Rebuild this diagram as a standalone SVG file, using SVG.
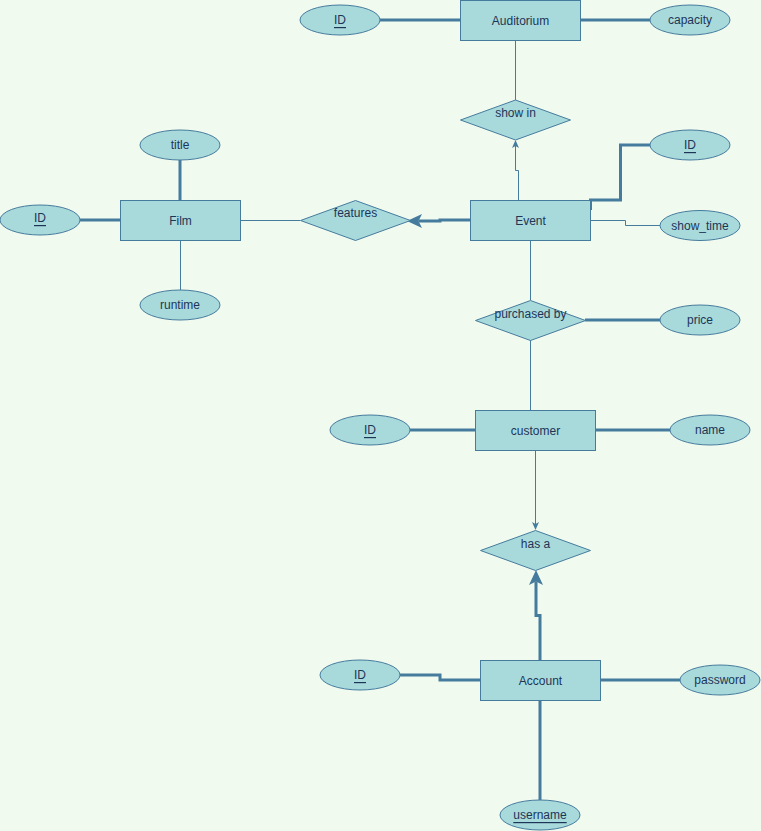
<svg xmlns="http://www.w3.org/2000/svg" width="761" height="831" viewBox="0 0 761 831">
<style>
.bg{fill:#F1FAEE}
.ent{fill:#A8DADC;stroke:#457B9D;stroke-width:1}
.att{fill:#A8DADC;stroke:#457B9D;stroke-width:1}
.rel{fill:#A8DADC;stroke:#457B9D;stroke-width:1}
.thin{fill:none;stroke:#457B9D;stroke-width:1}
.thick{fill:none;stroke:#457B9D;stroke-width:3}
text{font-family:"Liberation Sans",Arial,Helvetica,sans-serif;font-size:12px;fill:#1D3557;text-anchor:middle;dominant-baseline:central}
.key{text-decoration:underline}
</style>
<defs>
<marker id="arrThin" viewBox="0 0 8 7" markerWidth="8" markerHeight="7" refX="2" refY="3.5" orient="auto" markerUnits="userSpaceOnUse">
<path d="M0 0 L8 3.5 L0 7 L2 3.5 Z" fill="#457B9D"/>
</marker>
<marker id="arrThick" viewBox="0 0 15 14" markerWidth="15" markerHeight="14" refX="3.5" refY="7" orient="auto" markerUnits="userSpaceOnUse">
<path d="M0 0 L15 7 L0 14 L3.5 7 Z" fill="#457B9D"/>
</marker>
</defs>
<rect class="bg" x="0" y="0" width="761" height="831"/>

<g id="connectors">
<path class="thick" d="M380 20 L460 20"/>
<path class="thick" d="M580 20 L650 20"/>
<path class="thin" d="M515.5 40 L515.5 100"/>
<path class="thin" d="M518.5 200 L518.5 170.5 L515.5 170.5 L515.5 146" marker-end="url(#arrThin)"/>
<path class="thick" d="M590.5 210 L590.5 200 L620.5 200 L620.5 145 L650 145"/>
<path class="thin" d="M590 220.5 L625.5 220.5 L625.5 225.5 L660 225.5"/>
<path class="thick" d="M470 220 L440 220 L440 221 L418.5 221" marker-end="url(#arrThick)"/>
<path class="thin" d="M240 220.5 L300 220.5"/>
<path class="thick" d="M80 220 L120 220"/>
<path class="thick" d="M180 160 L180 200"/>
<path class="thin" d="M180.5 240 L180.5 290"/>
<path class="thin" d="M530.5 240 L530.5 300"/>
<path class="thick" d="M585 320 L660 320"/>
<path class="thin" d="M530.5 340 L530.5 410"/>
<path class="thick" d="M410 430 L475 430"/>
<path class="thick" d="M595 430 L670 430"/>
<path class="thin" d="M535.5 450 L535.5 524" marker-end="url(#arrThin)"/>
<path class="thick" d="M540 660 L540 615.5 L536 615.5 L536 581.5" marker-end="url(#arrThick)"/>
<path class="thick" d="M400 675 L440 675 L440 680 L480 680"/>
<path class="thick" d="M600 680 L680 680"/>
<path class="thick" d="M540 700 L540 800"/>
</g>

<g id="auditorium"><rect class="ent" x="460.5" y="0.5" width="120" height="40"/><text x="520.5" y="20.5">Auditorium</text></g>
<g id="auditorium-id"><ellipse class="att" cx="340" cy="20" rx="40" ry="15"/><text class="key" x="340" y="20">ID</text></g>
<g id="auditorium-capacity"><ellipse class="att" cx="690" cy="20" rx="40" ry="15"/><text x="690" y="20">capacity</text></g>
<g id="show-in"><path class="rel" d="M460.5 120 L515.5 100 L570.5 120 L515.5 140 Z"/><text x="515.5" y="113">show in</text></g>
<g id="event"><rect class="ent" x="470.5" y="200.5" width="120" height="40"/><text x="530.5" y="220.5">Event</text></g>
<g id="event-id"><ellipse class="att" cx="690" cy="145" rx="40" ry="15"/><text class="key" x="690" y="145">ID</text></g>
<g id="event-show-time"><ellipse class="att" cx="700" cy="225.5" rx="40" ry="15"/><text x="700" y="225.5">show_time</text></g>
<g id="features"><path class="rel" d="M300.5 220.5 L355.5 200.5 L410.5 220.5 L355.5 240.5 Z"/><text x="355.5" y="213">features</text></g>
<g id="film"><rect class="ent" x="120.5" y="200.5" width="120" height="40"/><text x="180.5" y="220.5">Film</text></g>
<g id="film-id"><ellipse class="att" cx="40" cy="220" rx="40" ry="15"/><text class="key" x="40" y="218">ID</text></g>
<g id="film-title"><ellipse class="att" cx="180" cy="145" rx="40" ry="15"/><text x="180" y="145">title</text></g>
<g id="film-runtime"><ellipse class="att" cx="180" cy="305" rx="40" ry="15"/><text x="180" y="305">runtime</text></g>
<g id="purchased-by"><path class="rel" d="M475.5 320.5 L530.5 300.5 L585.5 320.5 L530.5 340.5 Z"/><text x="530.5" y="313.5">purchased by</text></g>
<g id="price"><ellipse class="att" cx="700" cy="320" rx="40" ry="15"/><text x="700" y="320">price</text></g>
<g id="customer"><rect class="ent" x="475.5" y="410.5" width="120" height="40"/><text x="535.5" y="430.5">customer</text></g>
<g id="customer-id"><ellipse class="att" cx="370" cy="430" rx="40" ry="15"/><text class="key" x="370" y="430">ID</text></g>
<g id="customer-name"><ellipse class="att" cx="710" cy="430" rx="40" ry="15"/><text x="710" y="430">name</text></g>
<g id="has-a"><path class="rel" d="M480.5 550.5 L535.5 530.5 L590.5 550.5 L535.5 570.5 Z"/><text x="535.5" y="543.5">has a</text></g>
<g id="account"><rect class="ent" x="480.5" y="660.5" width="120" height="40"/><text x="540.5" y="680.5">Account</text></g>
<g id="account-id"><ellipse class="att" cx="360" cy="675" rx="40" ry="15"/><text class="key" x="360" y="675">ID</text></g>
<g id="account-password"><ellipse class="att" cx="720" cy="680" rx="40" ry="15"/><text x="720" y="680">password</text></g>
<g id="account-username"><ellipse class="att" cx="540" cy="815" rx="40" ry="15"/><text class="key" x="540" y="815">username</text></g>
</svg>
